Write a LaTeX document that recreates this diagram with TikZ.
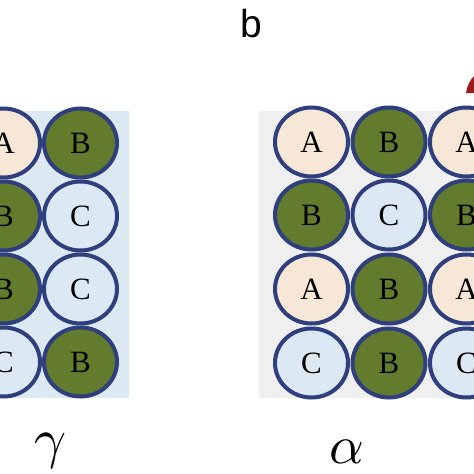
\documentclass[tikz,border=0pt]{standalone}
\usepackage{fontspec}
\usetikzlibrary{shapes.geometric}
\newfontfamily\cellfont{Liberation Serif}
\newfontfamily\labfont{Liberation Sans}
\definecolor{cA}{HTML}{F6E7D7}
\definecolor{cB}{HTML}{627B2C}
\definecolor{cC}{HTML}{DCE9F4}
\definecolor{rim}{HTML}{2F3E7C}
\definecolor{bgL}{HTML}{DCE9F3}
\definecolor{bgR}{HTML}{EFEFEF}
\definecolor{redtip}{HTML}{9A1C1F}
\tikzset{
  cell/.style={ellipse, draw=rim, line width=4pt, minimum width=73pt, minimum height=69pt, inner sep=0pt, font=\cellfont\fontsize{31}{31}\selectfont},
  cellA/.style={cell, fill=cA},
  cellB/.style={cell, fill=cB},
  cellC/.style={cell, fill=cC},
  greek/.style={inner sep=0pt, anchor=base}
}
\begin{document}
\begin{tikzpicture}[x=1pt,y=-1pt]
\useasboundingbox (0,0) rectangle (474,474);
\fill[white] (0,0) rectangle (474,474);
% backgrounds
\fill[bgL] (0,111) rectangle (129,398);
\fill[bgR] (259,111) rectangle (474,398);
% left panel (gamma)
\node[cellA] (l11) at (3.5,143) {A};
\node[cellB] (l12) at (3.5,216) {B};
\node[cellB] (l13) at (3.5,289) {B};
\node[cellC] (l14) at (3.5,362) {C};
\node[cellB] (l21) at (80.5,143) {B};
\node[cellC] (l22) at (80.5,216) {C};
\node[cellC] (l23) at (80.5,289) {C};
\node[cellB] (l24) at (80.5,362) {B};
% right panel (alpha)
\node[cellA] (r11) at (311.5,142) {A};
\node[cellB] (r12) at (311.5,215) {B};
\node[cellA] (r13) at (311.5,289) {A};
\node[cellC] (r14) at (311.5,363) {C};
\node[cellB] (r21) at (389,142) {B};
\node[cellC] (r22) at (389,215) {C};
\node[cellB] (r23) at (389,289) {B};
\node[cellB] (r24) at (389,363) {B};
\node[cellA] (r31) at (466.5,142) {A};
\node[cellB] (r32) at (466.5,215) {B};
\node[cellA] (r33) at (466.5,289) {A};
\node[cellC] (r34) at (466.5,363) {C};
% red tip
\fill[redtip] (466,93) .. controls (467,86) and (470,80) .. (474,76) -- (474,93) -- cycle;
% labels
\node[inner sep=0pt, anchor=base, font=\labfont\fontsize{39}{39}\selectfont] (lb) at (251,37) {b};
\node[greek] (lg) at (51,457) {\scalebox{5.6}{$\gamma$}};
\node[greek] (la) at (347,463) {\scalebox{5.4}{$\alpha$}};
\end{tikzpicture}
\end{document}
